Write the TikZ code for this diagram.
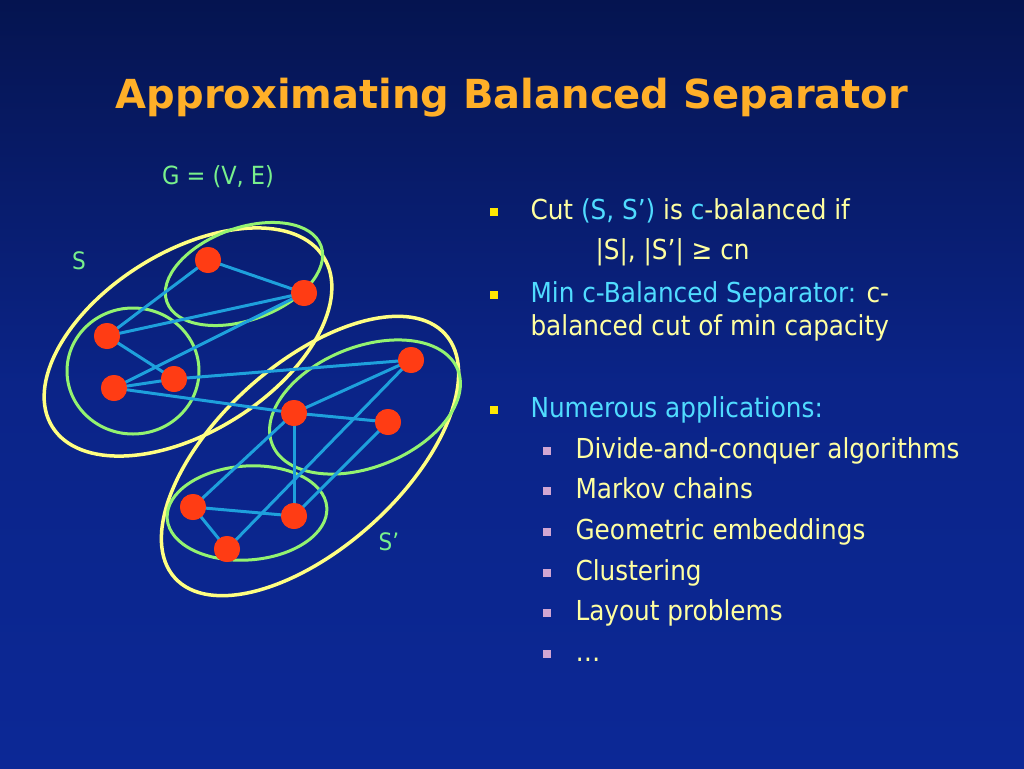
\documentclass[tikz,border=0pt]{standalone}
\usepackage{fontspec}
\setmainfont{DejaVu Sans Condensed}
\newfontfamily\ttlfont{DejaVu Sans}
\definecolor{bg}{RGB}{12,40,150}
\definecolor{bgtop}{RGB}{5,20,80}
\definecolor{ttl}{RGB}{255,175,40}
\definecolor{txt}{RGB}{255,255,160}
\definecolor{grn}{RGB}{120,240,140}
\definecolor{cyn}{RGB}{80,220,255}
\definecolor{edge}{RGB}{30,160,220}
\definecolor{vtx}{RGB}{255,60,20}
\definecolor{yel}{RGB}{255,255,130}
\begin{document}
\begin{tikzpicture}[x=1pt,y=-1pt,
  v/.style={circle,fill=vtx,minimum size=26pt,inner sep=0pt},
  e/.style={draw=edge,line width=3pt},
  yring/.style={draw=yel,line width=3.5pt},
  gring/.style={draw=grn!80!yellow,line width=3pt},
  t/.style={anchor=base west,text=txt,font=\fontsize{27.5}{32}\selectfont},
  bul/.style={fill=yellow!90!orange,minimum size=8pt,inner sep=0pt},
  sbul/.style={fill=violet!35!white,minimum size=8pt,inner sep=0pt}]
\shade[top color=bgtop,bottom color=bg,middle color=bg!80!bgtop] (0,0) rectangle (1024,768);
\useasboundingbox (0,0) rectangle (1024,768);
\node[text=ttl,font=\ttlfont\bfseries\fontsize{40}{46}\selectfont] (title) at (512,98) {Approximating Balanced Separator};
\node[text=grn,font=\fontsize{25}{30}\selectfont] (g) at (218,177) {G = (V, E)};
\node[text=grn,font=\fontsize{24}{28}\selectfont] (s) at (79,261) {S};
\node[text=grn,font=\fontsize{24}{28}\selectfont] (sp) at (389,542) {S’};
% rings
\draw[yring,rotate around={32:(188,342)}] (188,342) ellipse (160 and 90);
\draw[gring,rotate around={20:(244,274)}] (244,274) ellipse (82 and 46);
\draw[gring] (133,371) ellipse (66 and 63);
\draw[yring,rotate around={42:(310,456)}] (310,456) ellipse (182 and 92);
\draw[gring,rotate around={22:(365,407)}] (365,407) ellipse (100 and 60);
\draw[gring,rotate around={4:(247,513)}] (247,513) ellipse (80 and 47);
% vertices
\node[v] (a) at (208,260) {};
\node[v] (b) at (304,293) {};
\node[v] (c) at (107,336) {};
\node[v] (d) at (114,388) {};
\node[v] (ee) at (174,379) {};
\node[v] (f) at (411,360) {};
\node[v] (gg) at (294,413) {};
\node[v] (h) at (388,422) {};
\node[v] (i) at (193,507) {};
\node[v] (j) at (294,516) {};
\node[v] (k) at (227,549) {};
\foreach \p/\q in {a/b,a/c,c/b,c/ee,d/ee,d/b,ee/f,d/gg,gg/f,gg/h,gg/i,gg/j,i/j,i/k,k/f,j/h}
  \draw[e] (\p.center) -- (\q.center);
\foreach \x/\y in {208/260,304/293,107/336,114/388,174/379,411/360,294/413,388/422,193/507,294/516,227/549}
  \fill[vtx] (\x,\y) circle (13);
% text
\node[bul] (b1) at (494,212) {};
\node[t] (t1) at (527,219) {Cut \textcolor{cyn}{(S, S’)} is \textcolor{cyn}{c}-balanced if};
\node[t] (t2) at (592,259) {|S|, |S’| ≥ cn};
\node[bul] (b2) at (494,295) {};
\node[t] (t3) at (527,302) {\textcolor{cyn}{Min c-Balanced Separator:} c-};
\node[t] (t4) at (527,335) {balanced cut of min capacity};
\node[bul] (b3) at (494,410) {};
\node[t] (t5) at (527,417) {\textcolor{cyn}{Numerous applications:}};
\foreach \yy/\s [count=\n] in {458/Divide-and-conquer algorithms,498/Markov chains,539/Geometric embeddings,580/Clustering,620/Layout problems,661/…}{
  \node[sbul] (sb\n) at (547,\yy-7) {};
  \node[t] (st\n) at (572,\yy) {\s};
}
\end{tikzpicture}
\end{document}
